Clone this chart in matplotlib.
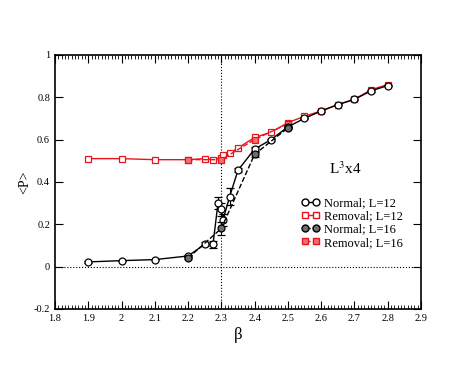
import numpy as np
import matplotlib.pyplot as plt
from matplotlib.ticker import MultipleLocator
from matplotlib.lines import Line2D

plt.rcParams['font.family'] = ['Liberation Serif', 'DejaVu Serif']
plt.rcParams['mathtext.fontset'] = 'stix'

# Normal; L=12
beta_n12 = [1.9, 2.0, 2.1, 2.2, 2.25, 2.275, 2.29, 2.3, 2.305, 2.325, 2.35,
            2.4, 2.45, 2.5, 2.55, 2.6, 2.65, 2.7, 2.75, 2.8]
p_n12 = [0.022, 0.028, 0.033, 0.05, 0.105, 0.105, 0.30, 0.27, 0.22, 0.33, 0.455,
         0.555, 0.60, 0.66, 0.70, 0.735, 0.765, 0.79, 0.83, 0.855]
err_n12 = [0.003, 0.003, 0.003, 0.005, 0.01, 0.015, 0.03, 0.03, 0.03, 0.04, 0.01,
           0.01, 0.005, 0.005, 0.004, 0.004, 0.003, 0.003, 0.003, 0.003]

# Removal; L=12
beta_r12 = [1.9, 2.0, 2.1, 2.2, 2.25, 2.275, 2.3, 2.305, 2.325, 2.35, 2.4,
            2.45, 2.5, 2.55, 2.6, 2.65, 2.7, 2.75, 2.8]
p_r12 = [0.51, 0.51, 0.505, 0.505, 0.51, 0.505, 0.515, 0.525, 0.535, 0.56, 0.61,
         0.635, 0.68, 0.71, 0.735, 0.765, 0.79, 0.835, 0.86]

# Normal; L=16
beta_n16 = [2.2, 2.3, 2.4, 2.5]
p_n16 = [0.04, 0.18, 0.53, 0.655]
err_n16 = [0.005, 0.03, 0.01, 0.005]

# Removal; L=16
beta_r16 = [2.2, 2.3, 2.4, 2.5]
p_r16 = [0.505, 0.505, 0.60, 0.675]

red = '#e8141c'
ms = 4.5

fig = plt.figure(figsize=(4.74, 3.66), dpi=100)
ax = fig.add_axes([0.116, 0.156, 0.772, 0.694])

ax.axvline(2.3, color='black', ls=':', lw=0.8)
ax.axhline(0.0, color='black', ls=':', lw=0.8)

ax.plot(beta_r12, p_r12, color=red, lw=1, marker='s', ms=ms, mfc='white', mec=red,
        mew=0.9, zorder=2)
ax.plot(beta_r16, p_r16, color=red, lw=1, ls='--', marker='s', ms=ms, mfc='#f07070',
        mec=red, mew=0.9, zorder=2)
ax.errorbar(beta_n12, p_n12, yerr=err_n12, color='black', lw=1, marker='o', ms=ms + 0.5,
            mfc='white', mec='black', mew=0.9, capsize=3, elinewidth=0.8, zorder=3)
ax.errorbar(beta_n16, p_n16, yerr=err_n16, color='black', lw=1, ls='--', marker='o',
            ms=ms + 0.5, mfc='#6e6e6e', mec='black', mew=0.9, capsize=3,
            elinewidth=0.8, zorder=4)

ax.set_xlim(1.8, 2.9)
ax.set_ylim(-0.2, 1.0)
ax.set_xticks(np.arange(1.8, 2.95, 0.1))
ax.set_xticklabels(['1.8', '1.9', '2', '2.1', '2.2', '2.3', '2.4', '2.5', '2.6',
                    '2.7', '2.8', '2.9'])
ax.xaxis.set_minor_locator(MultipleLocator(0.01))
ax.set_yticks(np.arange(-0.2, 1.05, 0.2))
ax.set_yticklabels(['-0.2', '0', '0.2', '0.4', '0.6', '0.8', '1'])
ax.tick_params(which='both', direction='in', top=True, right=True, labelsize=7.5)
ax.tick_params(which='major', length=6, width=0.8)
ax.tick_params(which='minor', length=3, width=0.6)
ax.tick_params(axis='y', which='minor', left=False, right=False)
for s in ax.spines.values():
    s.set_linewidth(1.2)

ax.set_xlabel('β', fontsize=12, labelpad=3)
ax.set_ylabel('<P>', fontsize=10, labelpad=2)

ax.text(0.75, 0.53, r'L$^{3}$x4', transform=ax.transAxes, fontsize=11)

handles = [
    Line2D([], [], color='black', lw=1, marker='o', ms=ms + 0.5, mfc='white', mec='black'),
    Line2D([], [], color=red, lw=1, marker='s', ms=ms, mfc='white', mec=red),
    Line2D([], [], color='black', lw=1, ls='--', marker='o', ms=ms + 0.5, mfc='#6e6e6e',
           mec='black'),
    Line2D([], [], color=red, lw=1, ls='--', marker='s', ms=ms, mfc='#f07070', mec=red),
]
labels = ['Normal; L=12', 'Removal; L=12', 'Normal; L=16', 'Removal; L=16']
ax.legend(handles, labels, loc='upper left', bbox_to_anchor=(0.66, 0.46),
          frameon=False, numpoints=2, handlelength=1.5, handletextpad=0.3,
          labelspacing=0.1, fontsize=9, borderaxespad=0)

fig.savefig('out.png', dpi=100)
